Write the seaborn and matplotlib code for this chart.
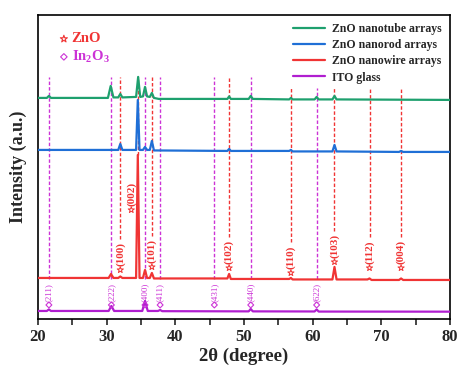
import matplotlib
matplotlib.use("Agg")
import matplotlib.pyplot as plt
import seaborn as sns

# XRD patterns (2theta, stacked intensity in a.u.)
tube_x = [20, 21.3, 21.6, 21.9, 30.2, 30.6, 31.0, 31.7, 32.0, 32.3, 34.3, 34.6, 34.9, 35.3, 35.6,
          35.9, 36.3, 36.6, 36.9, 37.6, 47.6, 47.85, 48.1, 50.7, 51.0, 51.3, 56.6, 56.85, 57.1,
          60.3, 60.6, 60.9, 62.9, 63.2, 63.5, 80]
tube_y = [221, 221, 223, 221, 221, 233, 221.5, 221.5, 225, 221.5, 222, 242, 222, 222.5, 232,
          222.5, 222, 226, 221, 220, 220, 222.5, 220, 220, 223, 220, 219.5, 221, 219.5,
          219.5, 222, 219.5, 219.5, 223, 219.5, 219]

rod_x = [20, 31.7, 32.0, 32.3, 34.3, 34.55, 34.8, 35.3, 35.6, 35.9, 36.3, 36.6, 36.9, 47.6, 47.85,
         48.1, 56.6, 56.85, 57.1, 62.9, 63.2, 63.5, 72.6, 72.9, 73.2, 80]
rod_y = [169, 169, 175, 169, 169, 219, 169, 169, 172, 169, 169, 178, 168.5, 168, 170,
         168, 168, 169, 167.5, 167.5, 174, 167.5, 167, 168, 167, 167]

wire_x = [20, 30.3, 30.65, 31.0, 31.7, 32.0, 32.3, 34.3, 34.55, 34.8, 35.3, 35.6, 35.9, 36.3, 36.6,
          36.9, 47.6, 47.85, 48.1, 56.6, 56.85, 57.1, 62.9, 63.2, 63.5, 68.0, 68.3, 68.6, 72.6,
          72.9, 73.2, 80]
wire_y = [41, 41, 45, 41, 41, 42.5, 41, 41, 164, 41, 41, 49, 41, 41, 46,
          40.5, 40.5, 45, 40, 40, 41, 39.5, 39.5, 52, 39.5, 39.5, 40.5, 39, 39,
          40.5, 39, 39]

ito_x = [20, 21.3, 21.6, 21.9, 30.3, 30.7, 31.1, 35.2, 35.6, 36.0, 37.5, 37.8, 38.1, 50.7, 51.0,
         51.3, 60.3, 60.6, 60.9, 80]
ito_y = [8, 8, 9.5, 8, 8, 13, 8, 8, 18, 8, 8, 9, 7.8, 7.6, 10,
         7.6, 7.5, 9.5, 7.4, 7.3]

# reference peaks
zno_pos = [32.0, 34.6, 36.6, 47.85, 56.85, 63.2, 68.3, 72.9]
zno_hkl = ["(100)", "(002)", "(101)", "(102)", "(110)", "(103)", "(112)", "(004)"]
zno_star = [49, 109, 52, 51, 46, 57, 51, 51]

in_pos = [21.6, 30.7, 35.6, 37.8, 45.7, 51.0, 60.6]
in_hkl = ["(211)", "(222)", "(400)", "(411)", "(431)", "(440)", "(622)"]

series = [
    ("ZnO nanotube arrays", tube_x, tube_y, "#1ea06e"),
    ("ZnO nanorod arrays", rod_x, rod_y, "#1f6fd6"),
    ("ZnO nanowire arrays", wire_x, wire_y, "#f03434"),
    ("ITO glass", ito_x, ito_y, "#b01ed0"),
]

sns.set_style("ticks")
plt.rcParams["font.family"] = ["Liberation Serif", "DejaVu Serif"]
plt.rcParams["font.weight"] = "bold"
plt.rcParams["mathtext.fontset"] = "custom"
plt.rcParams["mathtext.rm"] = "Liberation Serif:bold"
plt.rcParams["mathtext.bf"] = "Liberation Serif:bold"

red = "#f03434"
mag = "#cc33d6"

fig = plt.figure(figsize=(4.74, 3.82), dpi=100)
ax = fig.add_axes([0.080, 0.165, 0.869, 0.796])

# dashed guide lines + labels
for x, hkl, sy in zip(zno_pos, zno_hkl, zno_star):
    top = 242 if x < 53 else 231
    if hkl == "(002)":
        ax.vlines(x, 164, top, colors=red, linestyles=(0, (2.5, 1.5)), linewidth=1)
        lx = x - 1.0
    else:
        ax.vlines(x, sy + 31, top, colors=red, linestyles=(0, (2.5, 1.5)), linewidth=1)
        lx = x
    ax.scatter([lx], [sy], marker="*", s=22, facecolors="none", edgecolors=red, linewidths=0.7, zorder=5)
    ax.text(lx, sy + 4, hkl, rotation=90, ha="center", va="bottom", color=red,
            fontsize=8, fontweight="bold")

for x, hkl in zip(in_pos, in_hkl):
    top = 242 if x < 53 else 231
    ax.vlines(x, 40, top, colors=mag, linestyles=(0, (2.5, 1.5)), linewidth=1)
    ax.scatter([x], [14], marker="D", s=9, facecolors="none", edgecolors=mag, linewidths=0.8, zorder=5)
    ax.text(x, 17, hkl, rotation=90, ha="center", va="bottom", color=mag,
            fontsize=6.5, fontweight="normal")

for name, xs, ys, c in series:
    sns.lineplot(x=xs, y=ys, ax=ax, color=c, linewidth=1.6, label=name, sort=False, zorder=3)

ax.set_xlim(20, 80)
ax.set_ylim(0, 304)
ax.set_xticks([20, 30, 40, 50, 60, 70, 80])
ax.set_xticks([25, 35, 45, 55, 65, 75], minor=True)
ax.set_yticks([])
ax.tick_params(axis="x", which="both", direction="out", length=4, width=1.2, labelsize=12, pad=3)
for lab in ax.get_xticklabels():
    lab.set_fontweight("bold")
for s in ax.spines.values():
    s.set_visible(True)
    s.set_linewidth(1.2)
    s.set_color("black")

ax.set_xlabel("2θ (degree)", fontsize=13.5, fontweight="bold", labelpad=2)
ax.set_ylabel("Intensity (a.u.)", fontsize=13, fontweight="bold", labelpad=8)

# phase key at top left
ax.scatter([0.063], [0.921], marker="*", s=28, facecolors="none", edgecolors=red, linewidths=0.8,
           transform=ax.transAxes, clip_on=False)
ax.text(0.082, 0.921, "ZnO", transform=ax.transAxes, color=red, fontsize=10.5,
        fontweight="bold", va="center")
ax.scatter([0.063], [0.862], marker="D", s=11, facecolors="none", edgecolors=mag, linewidths=0.8,
           transform=ax.transAxes, clip_on=False)
ax.text(0.082, 0.862, r"In$_\mathbf{2}$O$_\mathbf{3}$", transform=ax.transAxes, color=mag,
        fontsize=10.5, fontweight="bold", va="center")

leg = ax.legend(loc="upper right", frameon=False, fontsize=8.5, handlelength=2.7,
                labelspacing=0.35, borderaxespad=0.3, handletextpad=0.6)
for t in leg.get_texts():
    t.set_fontweight("bold")

fig.savefig("out.png", dpi=100)
